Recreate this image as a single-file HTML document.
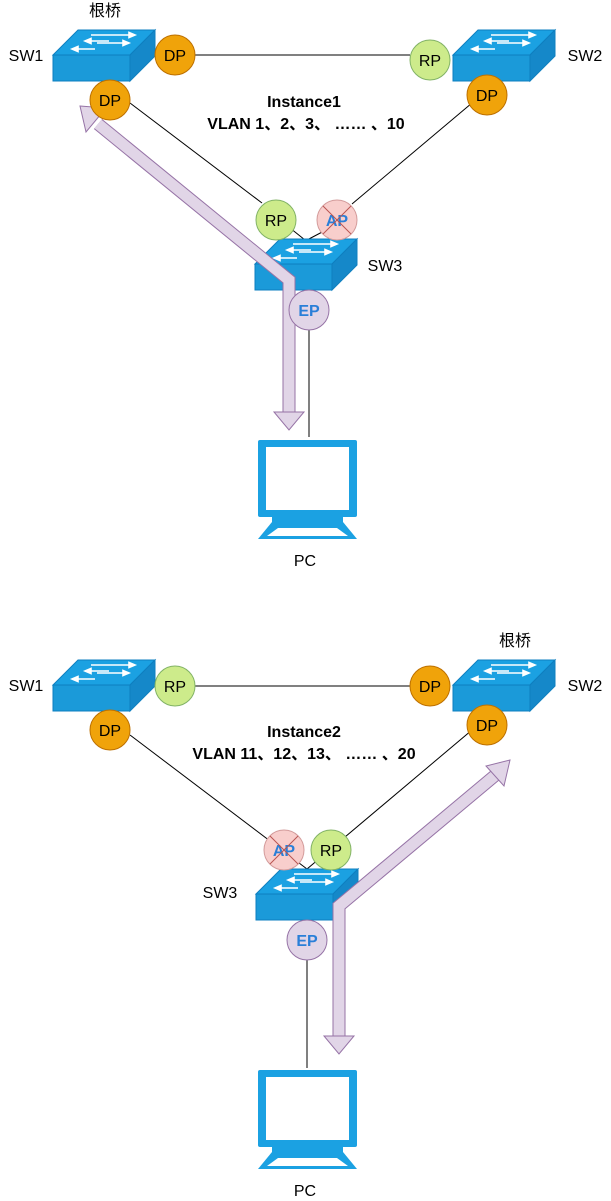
<!DOCTYPE html>
<html><head><meta charset="utf-8"><style>
html,body{margin:0;padding:0;background:#fff;}
svg{display:block;}
text{font-family:"Liberation Sans","Noto Sans CJK SC",sans-serif;}
</style></head><body>
<svg width="611" height="1201" viewBox="0 0 611 1201" xmlns="http://www.w3.org/2000/svg">
<defs>
<g id="sw">
  <polygon points="0,25 25,0 102,0 77,25" fill="#1ba1e2" stroke="#0e7fc0" stroke-width="1"/>
  <polygon points="77,25 102,0 102,26 77,51" fill="#1588c9" stroke="#0e7fc0" stroke-width="1"/>
  <rect x="0" y="25" width="77" height="26" fill="#1b9ad9" stroke="#0e7fc0" stroke-width="1"/>
  <g stroke="#fff" stroke-width="1.6" fill="#fff">
    <line x1="38" y1="5" x2="78" y2="5"/><polygon points="82,5 76,2.5 76,7.5"/>
    <line x1="36" y1="11" x2="56" y2="11"/><polygon points="32,11 38,8.5 38,13.5"/>
    <line x1="44" y1="13" x2="72" y2="13"/><polygon points="76,13 70,10.5 70,15.5"/>
    <line x1="24" y1="19" x2="42" y2="19"/><polygon points="19,19 25,16.5 25,21.5"/>
  </g>
</g>
<g id="pc">
  <rect x="0" y="0" width="99" height="77" rx="2" fill="#1ba1e2"/>
  <rect x="8" y="7" width="83" height="63" fill="#fff"/>
  <rect x="14" y="75" width="71" height="9" fill="#1ba1e2"/>
  <polygon points="0,99 14,82 85,82 99,99" fill="#1ba1e2"/>
  <polygon points="9,96 20,88 79,88 90,96" fill="#fff"/>
</g>
</defs>

<!-- ===== TOP ===== -->
<g stroke="#000" stroke-width="1" fill="none">
  <line x1="195" y1="55" x2="410" y2="55"/>
  <polyline points="130,103 262,203"/>
  <polyline points="290,228 305,240"/>
  <polyline points="472,103 352,204"/>
  <polyline points="326,230 307,240"/>
  <line x1="309" y1="330" x2="309" y2="437"/>
</g>
<use href="#sw" x="53" y="30"/>
<use href="#sw" x="453" y="30"/>
<use href="#sw" x="255" y="239"/>
<use href="#pc" x="258" y="440"/>

<g>
  <polyline points="289,418 289,280 98,124" fill="none" stroke="#9673a6" stroke-width="13" stroke-linejoin="miter"/>
  <polyline points="289,418 289,280 98,124" fill="none" stroke="#e1d5e7" stroke-width="11" stroke-linejoin="miter"/>
  <polygon points="274,412 304,412 289,430" fill="#e1d5e7" stroke="#9673a6"/>
  <polygon points="80,106 106,108 86,132" fill="#e1d5e7" stroke="#9673a6"/>
</g>

<circle cx="175" cy="55" r="20" fill="#f0a30a" stroke="#bd7000"/>
<text x="175" y="61" font-size="16" text-anchor="middle">DP</text>
<circle cx="110" cy="100" r="20" fill="#f0a30a" stroke="#bd7000"/>
<text x="110" y="106" font-size="16" text-anchor="middle">DP</text>
<circle cx="430" cy="60" r="20" fill="#cdeb8b" stroke="#82b366"/>
<text x="430" y="66" font-size="16" text-anchor="middle">RP</text>
<circle cx="487" cy="95" r="20" fill="#f0a30a" stroke="#bd7000"/>
<text x="487" y="101" font-size="16" text-anchor="middle">DP</text>
<circle cx="276" cy="220" r="20" fill="#cdeb8b" stroke="#82b366"/>
<text x="276" y="226" font-size="16" text-anchor="middle">RP</text>
<circle cx="337" cy="220" r="20" fill="#f8cecc" stroke="#d39b9b"/>
<text x="337" y="226" font-size="16" font-weight="bold" fill="#2a7fd8" text-anchor="middle">AP</text>
<line x1="323" y1="206" x2="351" y2="234" stroke="#b85450" stroke-width="1"/>
<line x1="351" y1="206" x2="323" y2="234" stroke="#b85450" stroke-width="1"/>
<circle cx="309" cy="310" r="20" fill="#e1d5e7" stroke="#9673a6"/>
<text x="309" y="316" font-size="16" font-weight="bold" fill="#2a7fd8" text-anchor="middle">EP</text>

<text x="105" y="16" font-size="16" text-anchor="middle">根桥</text>
<text x="26" y="61" font-size="16" text-anchor="middle">SW1</text>
<text x="585" y="61" font-size="16" text-anchor="middle">SW2</text>
<text x="385" y="271" font-size="16" text-anchor="middle">SW3</text>
<text x="304" y="107" font-size="16" font-weight="bold" text-anchor="middle">Instance1</text>
<text x="306" y="129" font-size="16" font-weight="bold" text-anchor="middle">VLAN 1、2、3、 …… 、10</text>
<text x="305" y="566" font-size="16" text-anchor="middle">PC</text>

<!-- ===== BOTTOM ===== -->
<g stroke="#000" stroke-width="1" fill="none">
  <line x1="195" y1="686" x2="410" y2="686"/>
  <polyline points="130,735 307,869"/>
  <polyline points="472,730 307,869"/>
  <line x1="307" y1="960" x2="307" y2="1068"/>
</g>
<use href="#sw" x="53" y="660"/>
<use href="#sw" x="453" y="660"/>
<use href="#sw" x="256" y="869"/>
<use href="#pc" x="258" y="1070"/>

<g>
  <polyline points="339,1042 339,906 498,773" fill="none" stroke="#9673a6" stroke-width="13"/>
  <polyline points="339,1042 339,906 498,773" fill="none" stroke="#e1d5e7" stroke-width="11"/>
  <polygon points="324,1036 354,1036 339,1054" fill="#e1d5e7" stroke="#9673a6"/>
  <polygon points="510,760 486,766 504,786" fill="#e1d5e7" stroke="#9673a6"/>
</g>

<circle cx="175" cy="686" r="20" fill="#cdeb8b" stroke="#82b366"/>
<text x="175" y="692" font-size="16" text-anchor="middle">RP</text>
<circle cx="430" cy="686" r="20" fill="#f0a30a" stroke="#bd7000"/>
<text x="430" y="692" font-size="16" text-anchor="middle">DP</text>
<circle cx="110" cy="730" r="20" fill="#f0a30a" stroke="#bd7000"/>
<text x="110" y="736" font-size="16" text-anchor="middle">DP</text>
<circle cx="487" cy="725" r="20" fill="#f0a30a" stroke="#bd7000"/>
<text x="487" y="731" font-size="16" text-anchor="middle">DP</text>
<circle cx="284" cy="850" r="20" fill="#f8cecc" stroke="#d39b9b"/>
<text x="284" y="856" font-size="16" font-weight="bold" fill="#2a7fd8" text-anchor="middle">AP</text>
<line x1="270" y1="836" x2="298" y2="864" stroke="#b85450" stroke-width="1"/>
<line x1="298" y1="836" x2="270" y2="864" stroke="#b85450" stroke-width="1"/>
<circle cx="331" cy="850" r="20" fill="#cdeb8b" stroke="#82b366"/>
<text x="331" y="856" font-size="16" text-anchor="middle">RP</text>
<circle cx="307" cy="940" r="20" fill="#e1d5e7" stroke="#9673a6"/>
<text x="307" y="946" font-size="16" font-weight="bold" fill="#2a7fd8" text-anchor="middle">EP</text>

<text x="515" y="646" font-size="16" text-anchor="middle">根桥</text>
<text x="26" y="691" font-size="16" text-anchor="middle">SW1</text>
<text x="585" y="691" font-size="16" text-anchor="middle">SW2</text>
<text x="220" y="898" font-size="16" text-anchor="middle">SW3</text>
<text x="304" y="737" font-size="16" font-weight="bold" text-anchor="middle">Instance2</text>
<text x="304" y="759" font-size="16" font-weight="bold" text-anchor="middle">VLAN 11、12、13、 …… 、20</text>
<text x="305" y="1196" font-size="16" text-anchor="middle">PC</text>
</svg>
</body></html>
